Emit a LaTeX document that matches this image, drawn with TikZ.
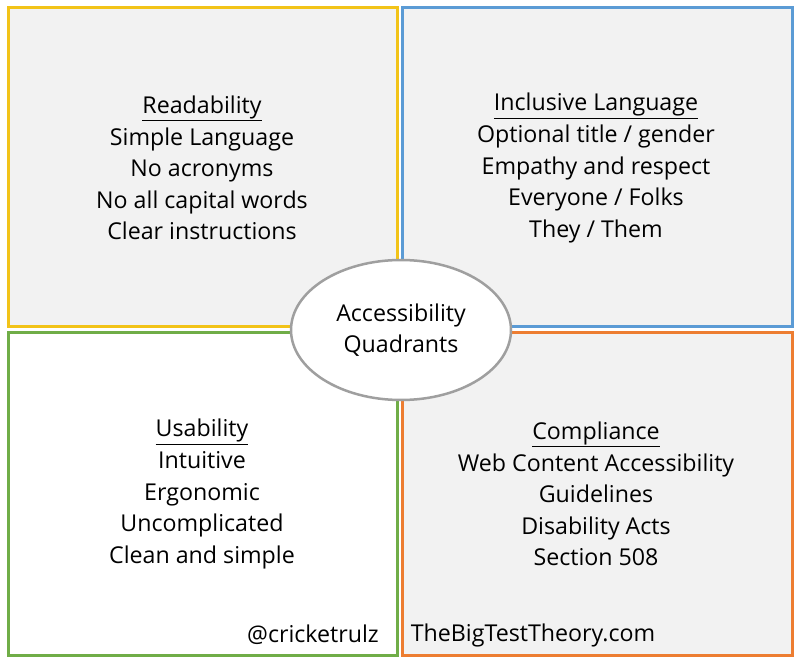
\documentclass[tikz,border=0pt]{standalone}
\usepackage{fontspec}
\setmainfont{Open Sans}
\usetikzlibrary{shapes.geometric}
\definecolor{cy}{HTML}{F2C318}
\definecolor{cb}{HTML}{5B9BD5}
\definecolor{cg}{HTML}{70AD47}
\definecolor{co}{HTML}{ED7D31}
\definecolor{bg}{HTML}{F2F2F2}
\begin{document}
\begin{tikzpicture}[x=1pt,y=-1pt,
  quad/.style={line width=3pt},
  txt/.style={font=\fontsize{23.2}{31.6}\selectfont,align=center,text=black}]
\useasboundingbox (0,0) rectangle (798,660);
\fill[white] (0,0) rectangle (798,660);
\draw[quad,cy,fill=bg] (8,8) rectangle (397,327);
\draw[quad,cb,fill=bg] (402,8) rectangle (792,327);
\draw[quad,cg,fill=white] (8,333) rectangle (397,655);
\draw[quad,co,fill=bg] (402,333) rectangle (792,655);
\node[txt] (r) at (202,168) {\underline{Readability}\\Simple Language\\No acronyms\\No all capital words\\Clear instructions};
\node[txt] (i) at (596,168) {\underline{Inclusive Language}\\Optional title / gender\\Empathy and respect\\Everyone / Folks\\They / Them};
\node[txt] (u) at (202,494) {\underline{Usability}\\Intuitive\\Ergonomic\\Uncomplicated\\Clean and simple};
\node[txt] (c) at (596,494) {\underline{Compliance}\\Web Content Accessibility\\Guidelines\\Disability Acts\\Section 508};
\node[ellipse,draw=gray!75,line width=2.5pt,fill=white,minimum width=220pt,minimum height=140pt,inner sep=0pt,txt] (e) at (401,330) {Accessibility\\Quadrants};
\node[txt] (f1) at (313,635) {@cricketrulz};
\node[txt] (f2) at (533,635) {TheBigTestTheory.com};
\end{tikzpicture}
\end{document}
